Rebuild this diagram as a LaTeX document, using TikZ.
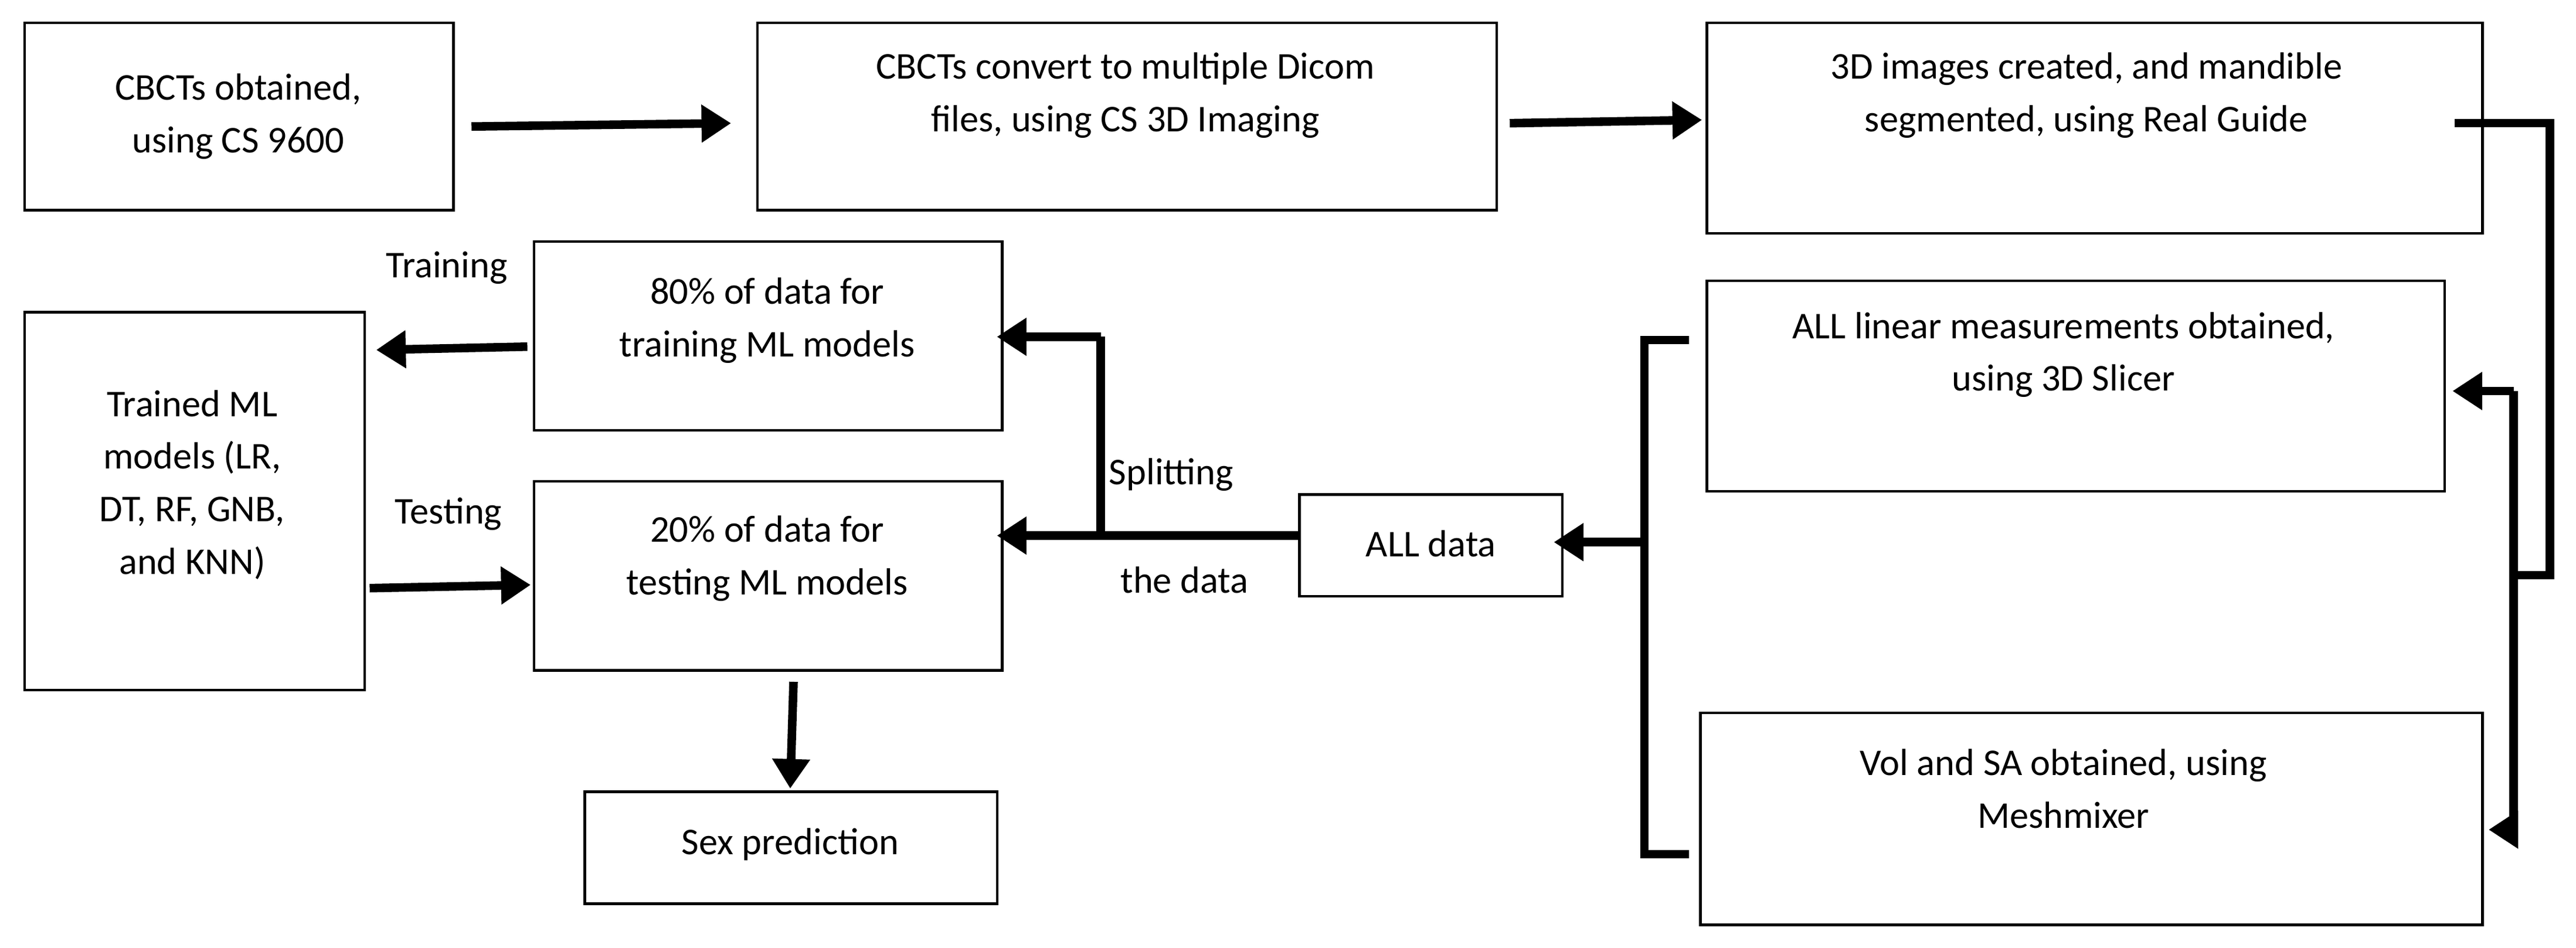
\documentclass[tikz,border=0pt]{standalone}
\usepackage{fontspec}
\setmainfont{Carlito}
\usetikzlibrary{arrows.meta}
\begin{document}
\begin{tikzpicture}[x=0.5pt,y=-0.5pt,
  box/.style={draw,line width=0.8pt,inner sep=0pt},
  txt/.style={align=center,font=\fontsize{11.5}{16}\selectfont,inner sep=0pt},
  arr/.style={line width=2.6pt,-{Triangle[length=9pt,width=11pt]}},
  ln/.style={line width=2.6pt}]
\useasboundingbox (0,0) rectangle (1568,577);
\fill[white] (0,0) rectangle (1568,577);
\newcommand\bx[5]{\node[box,minimum width={(#4-#2)*0.5pt},minimum height={(#5-#3)*0.5pt}] (#1) at ({(#2+#4)/2},{(#3+#5)/2}) {};}
\bx{b1}{15}{14}{276}{128}
\bx{b2}{461}{14}{911}{128}
\bx{b3}{1039}{14}{1511}{142}
\bx{b4}{1039}{171}{1488}{299}
\bx{b5}{1035}{434}{1511}{563}
\bx{b6}{791}{301}{951}{363}
\bx{b7}{325}{147}{610}{262}
\bx{b8}{325}{293}{610}{408}
\bx{b9}{15}{190}{222}{420}
\bx{b10}{356}{482}{607}{550}
\node[txt] (t1) at (145,71) {CBCTs obtained,\\using CS 9600};
\node[txt] (t2) at (685,58) {CBCTs convert to multiple Dicom\\files, using CS 3D Imaging};
\node[txt] (t3) at (1270,58) {3D images created, and mandible\\segmented, using Real Guide};
\node[txt] (t4) at (1256,216) {ALL linear measurements obtained,\\using 3D Slicer};
\node[txt] (t5) at (1256,480) {Vol and SA obtained, using\\Meshmixer};
\node[txt] (t6) at (871,331) {ALL data};
\node[txt] (t7) at (467,195) {80\% of data for\\training ML models};
\node[txt] (t8) at (467,340) {20\% of data for\\testing ML models};
\node[txt] (t9) at (117,295) {Trained ML\\models (LR,\\DT, RF, GNB,\\and KNN)};
\node[txt] (t10) at (481,514) {Sex prediction};
\node[txt] (l1) at (272,163) {Training};
\node[txt] (l2) at (273,313) {Testing};
\node[txt] (l3) at (713,289) {Splitting};
\node[txt] (l4) at (721,353) {the data};
% top row
\coordinate (a1) at (287,77); \coordinate (a2) at (445,75);
\draw[arr] (a1) -- (a2);
\coordinate (a3) at (919,75); \coordinate (a4) at (1036,73);
\draw[arr] (a3) -- (a4);
% right bracket
\coordinate (r1) at (1494,75); \coordinate (r2) at (1552,75);
\coordinate (r3) at (1552,350); \coordinate (r4) at (1530,350);
\draw[ln] (r1) -- (r2) -- (r3) -- (r4);
\coordinate (r5) at (1530,238); \coordinate (r6) at (1530,505);
\draw[ln] (r5) -- (r6);
\draw[arr] (r5) -- ([xshift=2pt]b4.east |- r5);
\draw[arr] (r6) -- ([xshift=1.5pt]b5.east |- r6);
% left bracket
\coordinate (k1) at (1028,207); \coordinate (k2) at (1001,207);
\coordinate (k3) at (1001,520); \coordinate (k4) at (1028,520);
\draw[ln] (k1) -- (k2) -- (k3) -- (k4);
\coordinate (k5) at (1001,330);
\draw[arr] (k5) -- ([xshift=-3pt]b6.east |- k5);
% split
\coordinate (s1) at (670,326); \coordinate (s2) at (670,205);
\draw[ln] (b6.west |- s1) -- (s1);
\draw[arr] (s1) -- ([xshift=-2pt]b8.east |- s1);
\draw[ln] (s1) -- (s2);
\draw[arr] (s2) -- ([xshift=-2pt]b7.east |- s2);
% left arrows
\coordinate (m1) at (321,211); \coordinate (m2) at (229,213);
\draw[arr] (m1) -- (m2);
\coordinate (m3) at (225,358); \coordinate (m4) at (323,356);
\draw[arr] (m3) -- (m4);
\coordinate (d1) at (483,415); \coordinate (d2) at (481,480);
\draw[arr] (d1) -- (d2);
\end{tikzpicture}
\end{document}
